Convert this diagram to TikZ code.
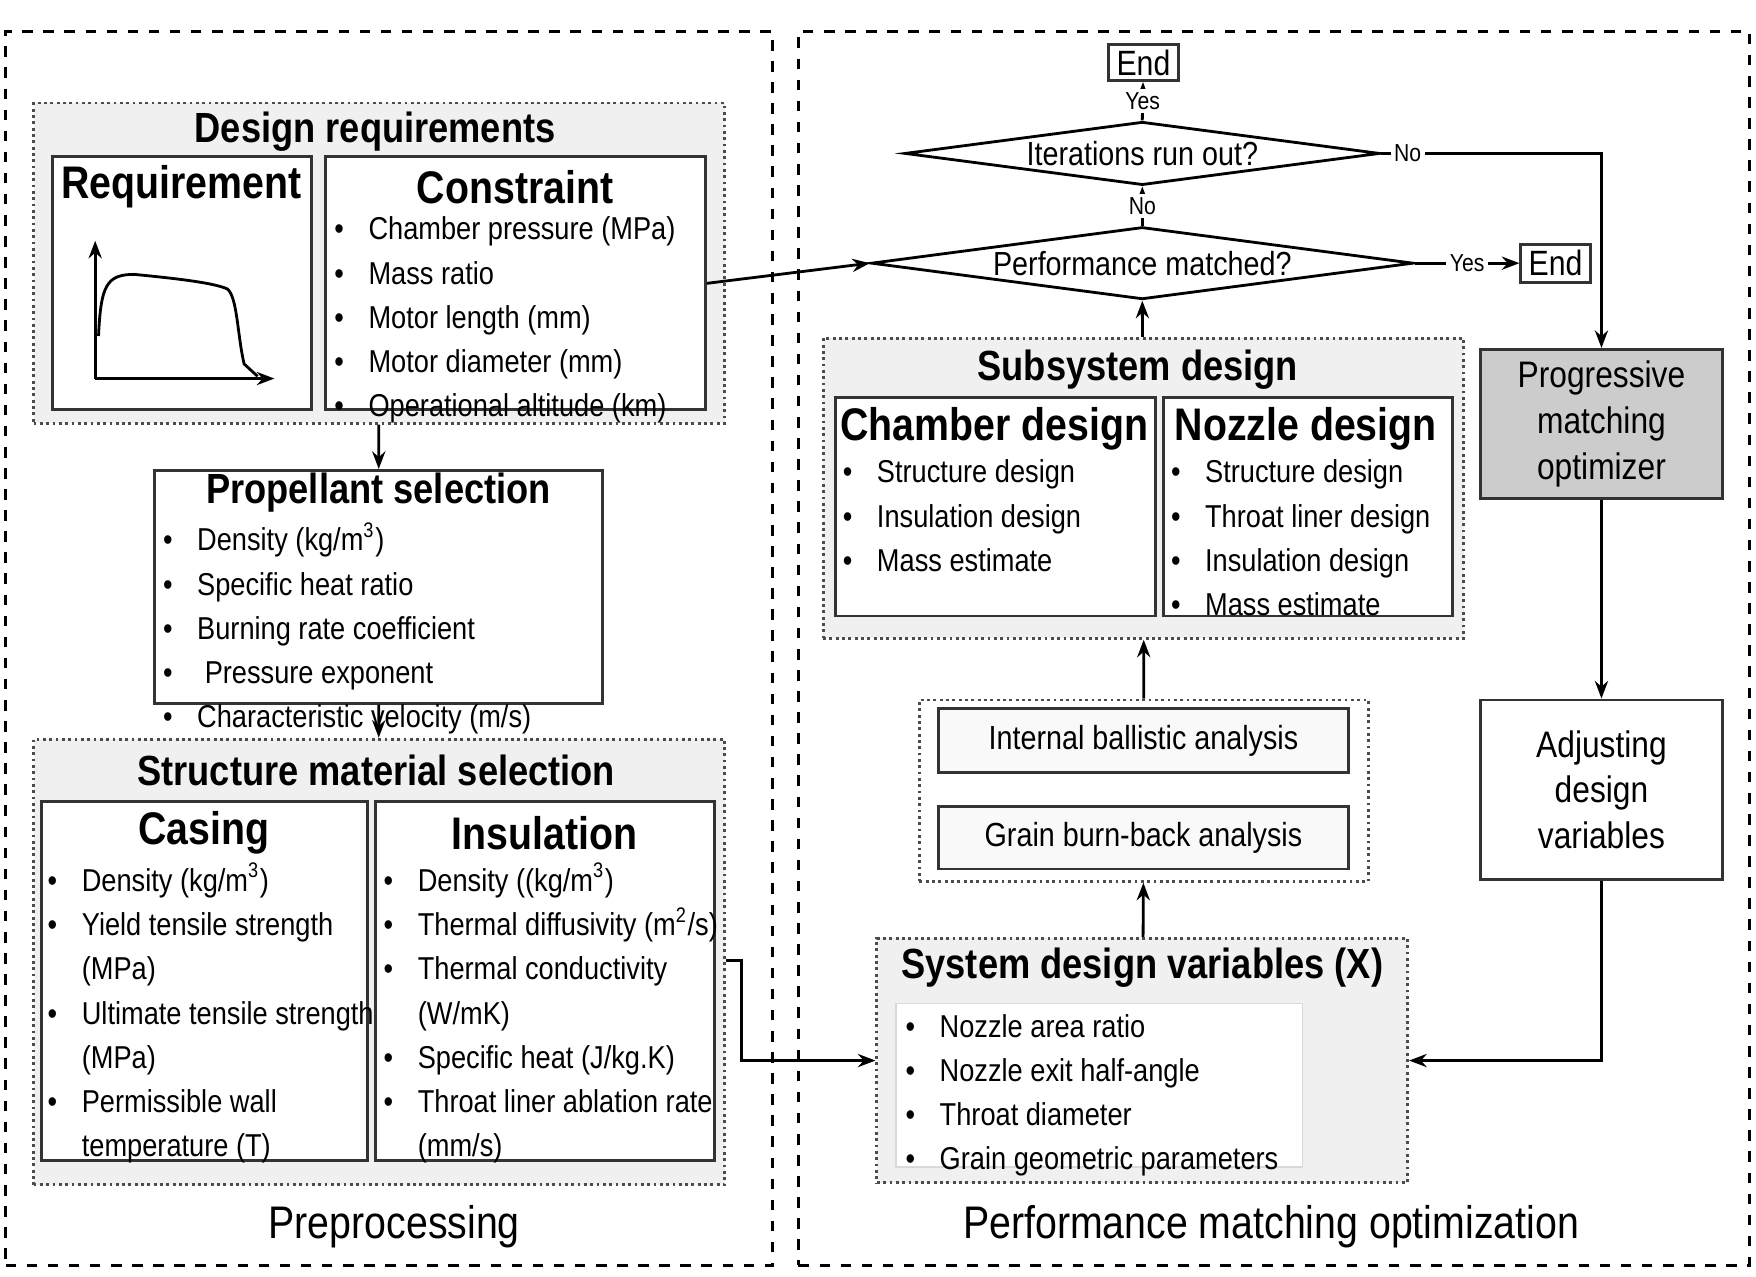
\documentclass[tikz,border=0pt]{standalone}
\usepackage{fontspec}
\setmainfont{Liberation Sans}[FakeStretch=0.86]
\usetikzlibrary{shapes.geometric,arrows.meta}
\def\u{0.0112cm}
\newcommand{\bl}{\textbullet\hspace{7pt}}
\tikzset{
  sz/.style 2 args={minimum width=#1*\u, minimum height=#2*\u},
  wbox/.style={draw=black!80, thick, fill=white, inner sep=0pt},
  gbox/.style={draw=black!70, thick, densely dotted, fill=gray!12, inner sep=0pt},
  frame/.style={draw, thick, dashed, inner sep=0pt},
  ttl/.style={font=\fontsize{12}{14}\selectfont\bfseries},
  sttl/.style={font=\fontsize{13}{15}\selectfont\bfseries},
  lst/.style={anchor=north west, align=left, inner sep=0pt, font=\fontsize{9}{12.6}\selectfont},
  lbl/.style={font=\fontsize{7}{8}\selectfont, fill=white, inner sep=1pt},
  dia/.style={diamond, draw, thick, aspect=7.5, inner sep=1pt, font=\fontsize{9.5}{11}\selectfont},
  arr/.style={-{Stealth[length=5pt]}, thick}
}
\begin{document}
\begin{tikzpicture}[x=0.0112cm, y=-0.0112cm]
    \useasboundingbox (0,0) rectangle (1568,1140);

    % Frames
    \node[frame, sz={685}{1102}] (pre) at (347.5,579) {};
    \node[frame, sz={849}{1102}] (opt) at (1137.5,579) {};
    \node[font=\fontsize{13}{15}\selectfont] (prelbl) at (352,1095) {Preprocessing};
    \node[font=\fontsize{13}{15}\selectfont] (optlbl) at (1135,1095) {Performance matching optimization};

    % Design requirements
    \node[gbox, sz={617}{286}] (dreq) at (338.5,235) {};
    \node[ttl] (dreqt) at (335,118) {Design requirements};
    \node[wbox, sz={231}{226}] (req) at (162.5,253) {};
    \node[sttl] (reqt) at (162,167) {Requirement};
    \draw[arr] (85,338) -- (85,215);
    \draw[arr] (85,338) -- (245,338);
    \draw[thick] (88,300) .. controls (90,255) and (95,245) .. (120,245)
        .. controls (150,248) and (190,252) .. (203,258)
        .. controls (212,265) and (212,300) .. (218,325) -- (230,336);
    \node[wbox, sz={339}{226}] (con) at (460.5,253) {};
    \node[sttl] (cont) at (460,167) {Constraint};
    \node[lst] (conl) at (298,193) {\bl Chamber pressure (MPa)\\ \bl Mass ratio\\ \bl Motor length (mm)\\ \bl Motor diameter (mm)\\ \bl Operational altitude (km)};

    % Propellant selection
    \node[wbox, sz={400}{208}] (prop) at (338,524) {};
    \node[ttl] (propt) at (338,440) {Propellant selection};
    \node[lst] (propl) at (145,466) {\bl Density (kg/m\textsuperscript{3})\\ \bl Specific heat ratio\\ \bl Burning rate coefficient\\ \bl\ Pressure exponent\\ \bl Characteristic velocity (m/s)};

    % Structure material selection
    \node[gbox, sz={617}{398}] (mat) at (338.5,859) {};
    \node[ttl] (matt) at (336,688) {Structure material selection};
    \node[wbox, sz={291}{320}] (cas) at (182.5,876) {};
    \node[sttl] (cast) at (182,744) {Casing};
    \node[lst] (casl) at (42,770) {\bl Density (kg/m\textsuperscript{3})\\ \bl Yield tensile strength\\ \phantom{\bl}(MPa)\\ \bl Ultimate tensile strength\\ \phantom{\bl}(MPa)\\ \bl Permissible wall\\ \phantom{\bl}temperature (T)};
    \node[wbox, sz={303}{320}] (ins) at (486.5,876) {};
    \node[sttl] (inst) at (486,744) {Insulation};
    \node[lst] (insl) at (342,770) {\bl Density ((kg/m\textsuperscript{3})\\ \bl Thermal diffusivity (m\textsuperscript{2}/s)\\ \bl Thermal conductivity\\ \phantom{\bl}(W/mK)\\ \bl Specific heat (J/kg.K)\\ \bl Throat liner ablation rate\\ \phantom{\bl}(mm/s)};

    % Decisions
    \node[wbox, sz={62}{32}, font=\fontsize{10}{12}\selectfont] (end1) at (1021,56) {End};
    \node[dia] (iter) at (1020,137) {Iterations run out?};
    \node[dia] (perf) at (1020,235) {Performance matched?};
    \node[wbox, sz={62}{34}, font=\fontsize{10}{12}\selectfont] (end2) at (1389,235) {End};

    % Subsystem design
    \node[gbox, sz={572}{268}] (sub) at (1021,436) {};
    \node[ttl] (subt) at (1016,330) {Subsystem design};
    \node[wbox, sz={286}{195}] (cha) at (889,452.5) {};
    \node[sttl] (chat) at (888,383) {Chamber design};
    \node[lst] (chal) at (752,410) {\bl Structure design\\ \bl Insulation design\\ \bl Mass estimate};
    \node[wbox, sz={258}{195}] (noz) at (1168,452.5) {};
    \node[sttl] (nozt) at (1166,383) {Nozzle design};
    \node[lst] (nozl) at (1045,410) {\bl Structure design\\ \bl Throat liner design\\ \bl Insulation design\\ \bl Mass estimate};

    % Analyses
    \node[gbox, fill=white, sz={401}{162}] (ana) at (1021.5,706) {};
    \node[wbox, fill=gray!5, sz={366}{57}, font=\fontsize{9.5}{11}\selectfont] (ib) at (1021,661.5) {Internal ballistic analysis};
    \node[wbox, fill=gray!5, sz={366}{56}, font=\fontsize{9.5}{11}\selectfont] (gb) at (1021,748) {Grain burn-back analysis};

    % System design variables
    \node[gbox, sz={474}{218}] (sys) at (1020,947) {};
    \node[ttl] (syst) at (1020,864) {System design variables (X)};
    \node[draw=black!15, fill=white, sz={363}{146}, inner sep=0pt] (sysin) at (981.5,969) {};
    \node[lst] (sysl) at (808,905) {\bl Nozzle area ratio\\ \bl Nozzle exit half-angle\\ \bl Throat diameter\\ \bl Grain geometric parameters};

    % Optimizer
    \node[wbox, fill=gray!40, sz={216}{133}, align=center, font=\fontsize{10.5}{13}\selectfont] (prog) at (1430,378.5) {Progressive\\ matching\\ optimizer};
    \node[wbox, sz={216}{160}, align=center, font=\fontsize{10.5}{13}\selectfont] (adj) at (1430,705) {Adjusting\\ design\\ variables};

    % Edges
    \draw[arr] (dreq) -- (prop);
    \draw[arr] (prop) -- (mat);
    \draw[arr] (con.east) -- (perf.west);
    \draw[arr] (mat.east |- 0,858) -- (662,858) |- (sys.west);
    \draw[arr] (sys) -- (ana);
    \draw[arr] (ana) -- (sub);
    \draw[arr] (sub) -- (perf.south);
    \draw[arr] (perf.north) -- node[lbl] {No} (iter.south);
    \draw[arr] (iter.north) -- node[lbl] {Yes} (end1);
    \draw[arr] (perf.east) -- node[lbl] {Yes} (end2);
    \draw[arr] (iter.east) -- node[lbl, pos=0.12] {No} (1430,137) -- (prog.north);
    \draw[arr] (prog) -- (adj);
    \draw[arr] (adj.south) |- (sys.east);

\end{tikzpicture}
\end{document}
